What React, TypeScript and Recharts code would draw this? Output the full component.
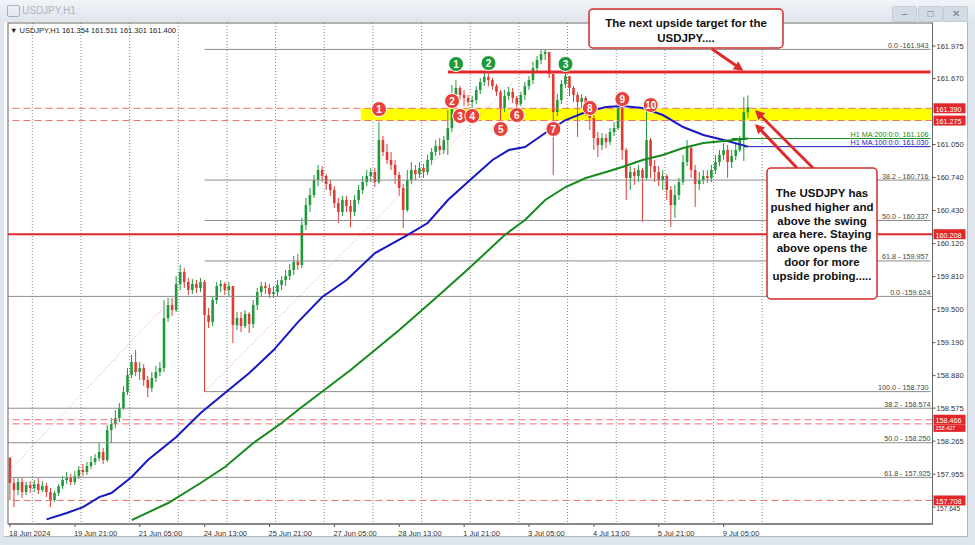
import React from "react";
import {
  ComposedChart,
  Bar,
  Line,
  XAxis,
  YAxis,
  CartesianGrid,
  ReferenceLine,
  ReferenceArea,
  ReferenceDot,
} from "recharts";

const FIRST_OPEN = 158.106;
const CLOSES = [
  157.872, 157.806, 157.881, 157.787, 157.853, 157.825, 157.862, 157.806, 157.843, 157.787,
  157.712, 157.778, 157.843, 157.9, 157.919, 157.881, 157.937, 157.994, 157.975, 158.031,
  158.069, 158.106, 158.163, 158.088, 158.369, 158.426, 158.482, 158.576, 158.726, 158.886,
  159.008, 158.914, 158.951, 158.839, 158.764, 158.858, 158.914, 158.951, 159.421, 159.543,
  159.496, 159.74, 159.853, 159.759, 159.684, 159.74, 159.703, 159.759, 159.449, 159.383,
  159.59, 159.721, 159.74, 159.684, 159.721, 159.355, 159.421, 159.346, 159.459, 159.365,
  159.543, 159.665, 159.721, 159.703, 159.646, 159.665, 159.731, 159.778, 159.815, 159.872,
  159.947, 159.919, 160.294, 160.482, 160.576, 160.717, 160.811, 160.754, 160.679, 160.623,
  160.501, 160.416, 160.529, 160.473, 160.416, 160.529, 160.623, 160.698, 160.754, 160.792,
  160.698, 161.092, 160.98, 160.905, 160.858, 160.764, 160.642, 160.435, 160.717, 160.811,
  160.773, 160.829, 160.792, 160.905, 160.98, 161.036, 160.998, 161.092, 161.205, 161.515,
  161.581, 161.515, 161.487, 161.449, 161.468, 161.562, 161.637, 161.684, 161.656, 161.599,
  161.543, 161.393, 161.506, 161.543, 161.487, 161.43, 161.515, 161.599, 161.656, 161.768,
  161.844, 161.9, 161.919, 161.712, 161.355, 161.468, 161.618, 161.693, 161.581, 161.515,
  161.449, 161.487, 161.374, 161.299, 161.111, 161.045, 161.111, 161.074, 161.168, 161.205,
  161.393, 160.998, 160.736, 160.792, 160.754, 160.811, 160.736, 161.092, 160.848, 160.792,
  160.717, 160.754, 160.623, 160.482, 160.576, 160.698, 160.886, 161.017, 160.811, 160.679,
  160.717, 160.754, 160.736, 160.811, 160.886, 160.952, 160.998, 160.886, 160.942, 160.998,
  161.092, 161.354, 161.4,
];
const HIGHS = [
  158.116, 157.919, 157.919, 157.919, 157.881, 157.89, 157.9, 157.919, 157.89, 157.872,
  157.825, 157.797, 157.862, 157.937, 157.975, 157.956, 157.984, 158.031, 158.05, 158.069,
  158.125, 158.144, 158.247, 158.2, 158.416, 158.482, 158.557, 158.623, 158.782, 158.951,
  159.074, 159.12, 159.008, 158.989, 158.876, 158.914, 158.97, 159.008, 159.59, 159.609,
  159.609, 159.815, 159.919, 159.89, 159.797, 159.787, 159.778, 159.797, 159.778, 159.515,
  159.628, 159.759, 159.778, 159.759, 159.759, 159.721, 159.477, 159.477, 159.496, 159.477,
  159.59, 159.703, 159.759, 159.759, 159.74, 159.721, 159.778, 159.815, 159.872, 159.928,
  160.003, 160.022, 160.36, 160.548, 160.642, 160.764, 160.858, 160.848, 160.773, 160.717,
  160.66, 160.548, 160.567, 160.567, 160.529, 160.576, 160.67, 160.754, 160.811, 160.829,
  160.829, 161.261, 161.13, 161.055, 160.98, 160.905, 160.792, 160.679, 160.811, 160.886,
  160.858, 160.886, 160.867, 160.952, 161.017, 161.092, 161.111, 161.13, 161.374, 161.609,
  161.656, 161.599, 161.562, 161.515, 161.506, 161.599, 161.675, 161.722, 161.712, 161.675,
  161.618, 161.562, 161.562, 161.59, 161.581, 161.506, 161.543, 161.637, 161.693, 161.825,
  161.881, 161.937, 161.943, 161.919, 161.712, 161.524, 161.656, 161.722, 161.693, 161.599,
  161.543, 161.524, 161.506, 161.393, 161.327, 161.168, 161.158, 161.149, 161.205, 161.261,
  161.468, 161.43, 161.017, 160.848, 160.829, 160.858, 160.829, 161.393, 161.111, 160.905,
  160.848, 160.811, 160.773, 160.66, 160.67, 160.736, 160.952, 161.092, 161.045, 160.858,
  160.792, 160.811, 160.811, 160.858, 160.952, 160.998, 161.064, 161.045, 160.998, 161.074,
  161.13, 161.496, 161.511,
];
const LOWS = [
  157.712, 157.646, 157.759, 157.731, 157.759, 157.778, 157.787, 157.768, 157.787, 157.74,
  157.646, 157.693, 157.75, 157.815, 157.862, 157.853, 157.853, 157.909, 157.937, 157.947,
  158.003, 158.041, 158.078, 158.05, 158.069, 158.247, 158.388, 158.444, 158.557, 158.698,
  158.858, 158.876, 158.839, 158.782, 158.679, 158.726, 158.82, 158.876, 158.914, 159.383,
  159.44, 159.477, 159.684, 159.703, 159.637, 159.646, 159.656, 159.665, 158.726, 159.327,
  159.346, 159.552, 159.665, 159.637, 159.628, 159.186, 159.308, 159.29, 159.327, 159.28,
  159.327, 159.496, 159.628, 159.646, 159.609, 159.609, 159.628, 159.684, 159.721, 159.778,
  159.825, 159.872, 159.89, 160.247, 160.416, 160.548, 160.66, 160.698, 160.623, 160.567,
  160.454, 160.313, 160.379, 160.416, 160.275, 160.379, 160.491, 160.585, 160.66, 160.698,
  160.651, 160.679, 160.942, 160.867, 160.811, 160.679, 160.567, 160.266, 160.416, 160.679,
  160.717, 160.736, 160.736, 160.764, 160.858, 160.942, 160.952, 160.961, 160.952, 161.168,
  161.468, 161.468, 161.412, 161.412, 161.393, 161.43, 161.524, 161.599, 161.599, 161.562,
  161.506, 161.28, 161.355, 161.468, 161.44, 161.393, 161.412, 161.468, 161.562, 161.618,
  161.731, 161.806, 161.844, 161.675, 160.764, 161.318, 161.43, 161.581, 161.506, 161.449,
  161.121, 161.393, 161.318, 161.186, 160.998, 160.933, 160.998, 161.017, 161.045, 161.13,
  161.186, 160.905, 160.529, 160.623, 160.67, 160.698, 160.322, 160.717, 160.736, 160.698,
  160.66, 160.623, 160.529, 160.275, 160.36, 160.529, 160.67, 160.848, 160.736, 160.463,
  160.623, 160.679, 160.689, 160.698, 160.773, 160.848, 160.905, 160.736, 160.829, 160.905,
  160.98, 160.895, 161.301,
];
const LAST_SLOT = 227; // empty slots to the right (chart shift)

// moving averages: [slot, price]
const MA100: [number, number][] = [
  [9, 157.53], [14, 157.59], [18, 157.646], [22, 157.74], [25, 157.778], [30, 157.928],
  [34, 158.088], [41, 158.304], [47, 158.529], [53, 158.717], [59, 158.905], [65, 159.12],
  [71, 159.383], [77, 159.618], [83, 159.778], [90, 160.031], [98, 160.2], [103, 160.313],
  [108, 160.529], [114, 160.736], [119, 160.905], [123, 160.998], [127, 161.027], [132, 161.158],
  [137, 161.28], [142, 161.355], [147, 161.402], [151, 161.412], [156, 161.393], [161, 161.327],
  [166, 161.214], [171, 161.139], [176, 161.092], [182, 161.03],
];
const MA200: [number, number][] = [
  [30, 157.524], [39, 157.684], [47, 157.872], [53, 158.022], [60, 158.247], [67, 158.435],
  [71, 158.557], [84, 158.933], [96, 159.308], [105, 159.609], [113, 159.881], [122, 160.2],
  [127, 160.341], [132, 160.529], [137, 160.651], [142, 160.736], [147, 160.792], [151, 160.839],
  [156, 160.905], [161, 160.952], [166, 161.017], [171, 161.064], [176, 161.083], [182, 161.106],
];

const DATE_TICKS = [0, 16, 32, 48, 64, 80, 96, 112, 128, 144, 160, 176];
const DATE_LABELS = [
  "18 Jun 2024", "19 Jun 21:00", "21 Jun 05:00", "24 Jun 13:00", "25 Jun 21:00", "27 Jun 05:00",
  "28 Jun 13:00", "1 Jul 21:00", "3 Jul 05:00", "4 Jul 13:00", "5 Jul 21:00", "9 Jul 05:00",
];
const PRICE_TICKS = [
  161.975, 161.67, 161.05, 160.74, 160.43, 160.12, 159.81, 159.5, 159.19, 158.88, 158.575,
  158.265, 157.955, 157.645,
];

// fibonacci levels: [price, text, first slot]
const FIB_LEVELS: [number, string, number][] = [
  [161.943, "0.0 -161.943", 48],
  [160.716, "38.2 - 160.716", 48],
  [160.337, "50.0 - 160.337", 48],
  [159.957, "61.8 - 159.957", 48],
  [159.624, "0.0 -159.624", 0],
  [158.73, "100.0 - 158.730", 48],
  [158.574, "38.2 - 158.574", 0],
  [158.25, "50.0 - 158.250", 0],
  [157.925, "61.8 - 157.925", 0],
];
const DASHED_LEVELS = [161.39, 161.275, 158.466, 158.427, 157.708];
const SWING_BAND = [161.275, 161.39];
const SUPPORT = 160.208;
const TARGET = 161.73;

const GREEN_MARKS: [string, number, number][] = [
  ["1", 110, 161.806], ["2", 118, 161.815], ["3", 137, 161.806],
];
const RED_MARKS: [string, number, number][] = [
  ["1", 91, 161.383], ["2", 109, 161.459], ["3", 111, 161.318], ["4", 114, 161.318],
  ["5", 121, 161.196], ["6", 125, 161.327], ["7", 134, 161.196], ["8", 143, 161.393],
  ["9", 151, 161.477], ["10", 158, 161.421],
];

const UP = "#1f9a3a";
const DOWN = "#e23b36";
const RED = "#e3262a";
const FONT = "'Liberation Sans', Arial, sans-serif";

const data: any[] = Array.from({ length: LAST_SLOT + 1 }, (_, i) => {
  const row: any = { slot: i };
  if (i < CLOSES.length) {
    row.o = i === 0 ? FIRST_OPEN : CLOSES[i - 1];
    row.c = CLOSES[i];
    row.h = HIGHS[i];
    row.l = LOWS[i];
    row.range = [LOWS[i], HIGHS[i]];
  }
  return row;
});
MA100.forEach(([s, v]) => (data[s].ma100 = v));
MA200.forEach(([s, v]) => (data[s].ma200 = v));

const Candle = (props: any) => {
  const { x, y, width, height, payload } = props;
  if (!payload || payload.o == null) return null;
  const { o, h, l, c } = payload;
  const cx = x + width / 2;
  const k = height / (h - l || 0.0001);
  const yo = y + (h - o) * k;
  const yc = y + (h - c) * k;
  const color = c >= o ? UP : DOWN;
  return (
    <g>
      <line x1={cx} x2={cx} y1={y} y2={y + height} stroke={color} strokeWidth={1} />
      <rect x={cx - 1.3} y={Math.min(yo, yc)} width={2.6} height={Math.max(1, Math.abs(yo - yc))} fill={color} />
    </g>
  );
};

const DateTick = ({ x, y, payload }: any) => (
  <text x={x - 1} y={y + 9} fontSize={7.5} fill="#333" fontFamily={FONT}>
    {DATE_LABELS[DATE_TICKS.indexOf(payload.value)]}
  </text>
);

const PriceTick = ({ x, y, payload }: any) => (
  <text x={x + 1} y={y + (payload.value < 157.7 ? 4 : 2.5)} fontSize={payload.value < 157.7 ? 6.5 : 7.5} fill="#333" fontFamily={FONT}>
    {payload.value.toFixed(3)}
  </text>
);

const LevelText = ({ viewBox, text, color = "#444" }: any) =>
  viewBox ? (
    <text x={viewBox.x + viewBox.width - 2} y={viewBox.y - 1.5} textAnchor="end" fontSize={7.2} fill={color} fontFamily={FONT}>
      {text}
    </text>
  ) : null;

// red price tag on the axis; a tag squeezed under a neighbour is drawn lower and smaller
const PriceTag = ({ viewBox, text, squeezed }: any) => {
  if (!viewBox) return null;
  const x = viewBox.x + viewBox.width + 1;
  const top = squeezed ? viewBox.y + 1 : viewBox.y - 5;
  const h = squeezed ? 7 : 10;
  return (
    <g>
      <rect x={x} y={top} width={32} height={h} fill={RED} />
      <text x={x + 2} y={top + h - 1.5} fontSize={squeezed ? 5.5 : 7.2} fill="#fff" fontFamily={FONT}>
        {text}
      </text>
    </g>
  );
};

const plotLeft = 8;
const plotWidth = 924.5;
const band = plotWidth / (LAST_SLOT + 1);
const dayLines = Array.from({ length: 16 }, (_, k) => plotLeft + (6 + 12 * k) * band);

const Chrome = () => (
  <>
    <div style={{ position: "absolute", left: 0, top: 0, width: 975, height: 545, background: "#dfe5ec" }} />
    <div style={{ position: "absolute", left: 0, top: 0, width: 975, height: 22, background: "linear-gradient(#f1f4f8, #dfe5ec)" }} />
    <div style={{ position: "absolute", left: 7, top: 5, width: 11, height: 10, border: "1px solid #9fb3c8", borderRadius: 2 }} />
    <div style={{ position: "absolute", left: 22, top: 5, fontSize: 10, color: "#aab4bf", fontFamily: FONT }}>USDJPY,H1</div>
    {[892, 918, 943].map((l, i) => (
      <div key={l} style={{ position: "absolute", left: l, top: 6, width: 23, height: 14, background: "#d3dbe4", border: "1px solid #c4ced9", borderRadius: 2, color: "#6d7a88", fontSize: 10, lineHeight: "13px", textAlign: "center", fontFamily: FONT }}>
        {["\u2013", "\u25a1", "\u2715"][i]}
      </div>
    ))}
    <div style={{ position: "absolute", left: 4, top: 22, width: 963, height: 514, background: "#fff", borderRight: "1px solid #aeb8c4", borderBottom: "1px solid #aeb8c4" }} />
  </>
);

const Overlay = () => (
  <svg width={975} height={545} style={{ position: "absolute", left: 0, top: 0, pointerEvents: "none" }} fontFamily={FONT}>
    <defs>
      <marker id="ah" viewBox="0 0 10 10" refX="7" refY="5" markerWidth="3.2" markerHeight="3.2" orient="auto">
        <path d="M0,0 L10,5 L0,10 z" fill="#e02b2b" />
      </marker>
    </defs>
    <rect x={8} y={23} width={924.5} height={501} fill="none" stroke="#666" strokeWidth={1} />
    <text x={10} y={33} fontSize={7.5} fill="#222">
      {"\u25bc USDJPY,H1  161.354 161.511 161.301 161.400"}
    </text>
    <rect x={589} y={9} width={194} height={39} rx={4} fill="#fff" stroke="#d42a2a" strokeWidth={1.5} />
    <text x={686} y={27} textAnchor="middle" fontSize={11.5} fontWeight={700} fill="#111">The next upside target for the</text>
    <text x={686} y={42} textAnchor="middle" fontSize={11.5} fontWeight={700} fill="#111">USDJPY....</text>
    <line x1={712} y1={49} x2={741} y2={69} stroke="#e02b2b" strokeWidth={3} markerEnd="url(#ah)" />
    <line x1={797} y1={168} x2={757} y2={126} stroke="#e02b2b" strokeWidth={3} markerEnd="url(#ah)" />
    <line x1={813} y1={168} x2={757} y2={112} stroke="#e02b2b" strokeWidth={3} markerEnd="url(#ah)" />
    <rect x={767} y={168} width={110} height={131} rx={4} fill="#fff" stroke="#d42a2a" strokeWidth={1.5} />
    {["The USDJPY has", "pushed higher and", "above the swing", "area here. Staying", "above opens the", "door for more", "upside probing....."].map((t, i) => (
      <text key={t} x={822} y={197 + i * 13.8} textAnchor="middle" fontSize={11.5} fontWeight={700} fill="#111">
        {t}
      </text>
    ))}
  </svg>
);

export default function App() {
  return (
    <div style={{ position: "relative", width: 975, height: 545, overflow: "hidden" }}>
      <style>{"body{margin:0}"}</style>
      <Chrome />
      <div style={{ position: "absolute", left: 0, top: 0 }}>
        <ComposedChart width={975} height={545} data={data} margin={{ top: 23, right: 0, bottom: 0, left: 8 }}>
          <CartesianGrid horizontal={false} verticalPoints={dayLines} stroke="#8a8a8a" strokeDasharray="1 2" />
          <XAxis dataKey="slot" type="category" ticks={DATE_TICKS} interval={0} height={21} tickSize={3} tickMargin={0} tick={<DateTick />} stroke="#555" />
          <YAxis orientation="right" width={42.5} domain={[157.487, 162.191]} allowDataOverflow ticks={PRICE_TICKS} tickSize={3} tickMargin={0} tick={<PriceTick />} stroke="#555" />
          <ReferenceArea x1={87} x2={LAST_SLOT} y1={SWING_BAND[0]} y2={SWING_BAND[1]} fill="#ffff00" fillOpacity={1} stroke="none" />
          {FIB_LEVELS.map(([v, t, from]) =>
            from === 0 ? (
              <ReferenceLine key={t} y={v} stroke="#8c8c8c" label={<LevelText text={t} />} />
            ) : (
              <ReferenceLine key={t} segment={[{ x: from, y: v }, { x: LAST_SLOT, y: v }]} stroke="#8c8c8c" label={<LevelText text={t} />} />
            )
          )}
          <ReferenceLine segment={[{ x: 48, y: 158.73 }, { x: 132, y: 161.943 }]} stroke="#e79a9a" strokeDasharray="1 2" />
          <ReferenceLine segment={[{ x: 0, y: 157.994 }, { x: 40, y: 159.609 }]} stroke="#e79a9a" strokeDasharray="1 2" />
          {DASHED_LEVELS.map((v) => (
            <ReferenceLine key={v} y={v} stroke="#ee6f6f" strokeDasharray="7 4" label={<PriceTag text={v.toFixed(3)} squeezed={v === 158.427} />} />
          ))}
          <ReferenceLine y={SUPPORT} stroke={RED} strokeWidth={2} label={<PriceTag text={SUPPORT.toFixed(3)} />} />
          <ReferenceLine segment={[{ x: 108, y: TARGET }, { x: LAST_SLOT, y: TARGET }]} stroke={RED} strokeWidth={3} />
          <Bar dataKey="range" shape={<Candle />} isAnimationActive={false} />
          <Line dataKey="ma100" stroke="#1717c4" strokeWidth={2} dot={false} connectNulls isAnimationActive={false} />
          <Line dataKey="ma200" stroke="#168a1c" strokeWidth={2} dot={false} connectNulls isAnimationActive={false} />
          <ReferenceLine segment={[{ x: 178, y: 161.106 }, { x: LAST_SLOT, y: 161.106 }]} stroke="#168a1c" label={<LevelText text="H1 MA:200:0:0: 161.106" color="#168a1c" />} />
          <ReferenceLine segment={[{ x: 181, y: 161.03 }, { x: LAST_SLOT, y: 161.03 }]} stroke="#1717c4" label={<LevelText text="H1 MA:100:0:0: 161.030" color="#1717c4" />} />
          {GREEN_MARKS.map(([t, s, v]) => (
            <ReferenceDot key={"g" + t} x={s} y={v} r={7.5} fill="#1f9a3a" stroke="#fff" strokeWidth={1} label={{ value: t, position: "center", fill: "#fff", fontSize: 10, fontWeight: 700, fontFamily: FONT }} />
          ))}
          {RED_MARKS.map(([t, s, v]) => (
            <ReferenceDot key={"r" + t} x={s} y={v} r={7.5} fill="#e8403a" stroke="#fff" strokeWidth={1} label={{ value: t, position: "center", fill: "#fff", fontSize: 10, fontWeight: 700, fontFamily: FONT }} />
          ))}
        </ComposedChart>
      </div>
      <Overlay />
    </div>
  );
}
